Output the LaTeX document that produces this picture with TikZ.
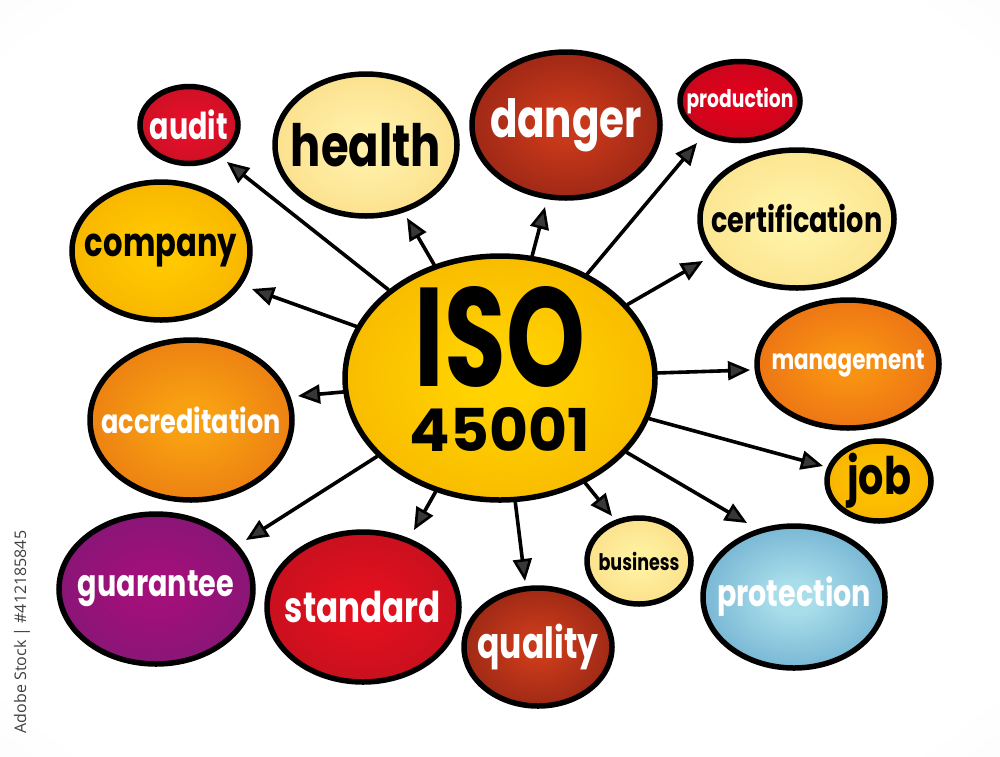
\documentclass[tikz,border=0pt]{standalone}
\usepackage{fontspec}
\setmainfont{Poppins}
\newfontfamily\wmfont{Open Sans}
\usetikzlibrary{shapes.geometric,arrows.meta}
\colorlet{innc}{white}
\colorlet{outc}{white}
\definecolor{bgin}{HTML}{FFFFFF}
\definecolor{bgout}{HTML}{E4E4E6}
\pgfdeclareradialshading[innc,outc]{soft}{\pgfpoint{0bp}{0bp}}{color(0bp)=(innc); color(6bp)=(innc); color(50bp)=(outc); color(60bp)=(outc)}
\pgfdeclareradialshading[bgin,bgout]{bgsoft}{\pgfpoint{0bp}{0bp}}{color(0bp)=(bgin); color(32bp)=(bgin); color(71bp)=(bgout)}
\newcommand\fitw[2]{\resizebox{#1}{!}{\scalebox{1}[1.3]{\bfseries #2}}}
\tikzset{
  ic/.code={\definecolor{innc}{HTML}{#1}},
  oc/.code={\definecolor{outc}{HTML}{#1}},
  bub/.style={ellipse, draw=black, line width=5.5pt, inner sep=0pt, shading=soft},
  wl/.style={text=white},
  bl/.style={text=black},
  arr/.style={line width=3.6pt, draw=black, line cap=round, -{Triangle[length=22pt,width=19pt,fill=black!78,line width=2.6pt]}},
}
\begin{document}
\begin{tikzpicture}[x=1pt,y=-1pt]
\path[shading=bgsoft] (0,0) rectangle (1000,756);
\useasboundingbox (0,0) rectangle (1000,756);

% arrow tips (free ends of the connectors)
\coordinate (t-audit) at (227,162);
\coordinate (t-health) at (407,218);
\coordinate (t-danger) at (545,207);
\coordinate (t-production) at (697,143);
\coordinate (t-certification) at (703,261);
\coordinate (t-company) at (252,289);
\coordinate (t-accreditation) at (298,396);
\coordinate (t-management) at (750,370);
\coordinate (t-job) at (823,466);
\coordinate (t-guarantee) at (246,540);
\coordinate (t-standard) at (414,530);
\coordinate (t-quality) at (525,581);
\coordinate (t-business) at (612,516);
\coordinate (t-protection) at (747,523);

% central bubble
\node[bub, ic=FFD200, oc=F0A000, minimum width=310pt, minimum height=244pt] (iso) at (500,378) {};

\foreach \n in {audit,health,danger,production,certification,company,accreditation,management,job,guarantee,standard,quality,business,protection}
  \draw[arr] (iso) -- (t-\n);

\node[bl, inner sep=0pt] (isot) at (500,369)
  {\vbox{\offinterlineskip\halign{\hfil#\hfil\cr
     \resizebox{170pt}{100pt}{\bfseries ISO}\cr
     \noalign{\vskip 20pt}
     \resizebox{180pt}{44pt}{\bfseries 45001}\cr}}};

% satellite bubbles
\node[bub, ic=E4102A, oc=B0101E, minimum width=98pt, minimum height=77pt,
      label={[wl]center:\fitw{78pt}{audit}}] (audit) at (189,125) {};
\node[bub, ic=FFF0A8, oc=F6CE6E, minimum width=182pt, minimum height=142pt,
      label={[bl]center:\fitw{150pt}{health}}] (health) at (366,145) {};
\node[bub, ic=C8381A, oc=6A1410, minimum width=188pt, minimum height=146pt,
      label={[wl]center:\fitw{152pt}{danger}}] (danger) at (566,125) {};
\node[bub, ic=E2001C, oc=A8101C, minimum width=120pt, minimum height=79pt,
      label={[wl]center:\fitw{107pt}{production}}] (production) at (740,101) {};
\node[bub, ic=FFF2A6, oc=F6D476, minimum width=194pt, minimum height=138pt,
      label={[bl]center:\fitw{171pt}{certification}}] (certification) at (797,219) {};
\node[bub, ic=FFC800, oc=F0A000, minimum width=178pt, minimum height=138pt,
      label={[bl]center:\fitw{152pt}{company}}] (company) at (161,251) {};
\node[bub, ic=F8A012, oc=DE5A12, minimum width=202pt, minimum height=160pt,
      label={[wl]center:\fitw{179pt}{accreditation}}] (accreditation) at (191,420) {};
\node[bub, ic=F89212, oc=DE5018, minimum width=182pt, minimum height=128pt,
      label={[wl]center:\fitw{153pt}{management}}] (management) at (848,364) {};
\node[bub, ic=FFC400, oc=F0A000, minimum width=104pt, minimum height=80pt,
      label={[bl]center:\fitw{64pt}{job}}] (job) at (879,481) {};
\node[bub, ic=A2107A, oc=6A1C72, minimum width=194pt, minimum height=150pt,
      label={[wl]center:\fitw{156pt}{guarantee}}] (guarantee) at (156,589) {};
\node[bub, ic=E2101E, oc=A8101E, minimum width=192pt, minimum height=150pt,
      label={[wl]center:\fitw{156pt}{standard}}] (standard) at (363,607) {};
\node[bub, ic=C83A1A, oc=6A1410, minimum width=148pt, minimum height=118pt,
      label={[wl]center:\fitw{121pt}{quality}}] (quality) at (538,647) {};
\node[bub, ic=FFF0A0, oc=F6CE70, minimum width=104pt, minimum height=86pt,
      label={[bl]center:\fitw{81pt}{business}}] (business) at (639,561) {};
\node[bub, ic=A8DDEA, oc=3C86B8, minimum width=182pt, minimum height=142pt,
      label={[wl]center:\fitw{154pt}{protection}}] (protection) at (794,597) {};

% stock watermark caption
\node[rotate=90, text=black!75, font=\wmfont\fontsize{16}{16}\selectfont] (wm) at (22,632) {Adobe Stock | \#412185845};
\end{tikzpicture}
\end{document}
